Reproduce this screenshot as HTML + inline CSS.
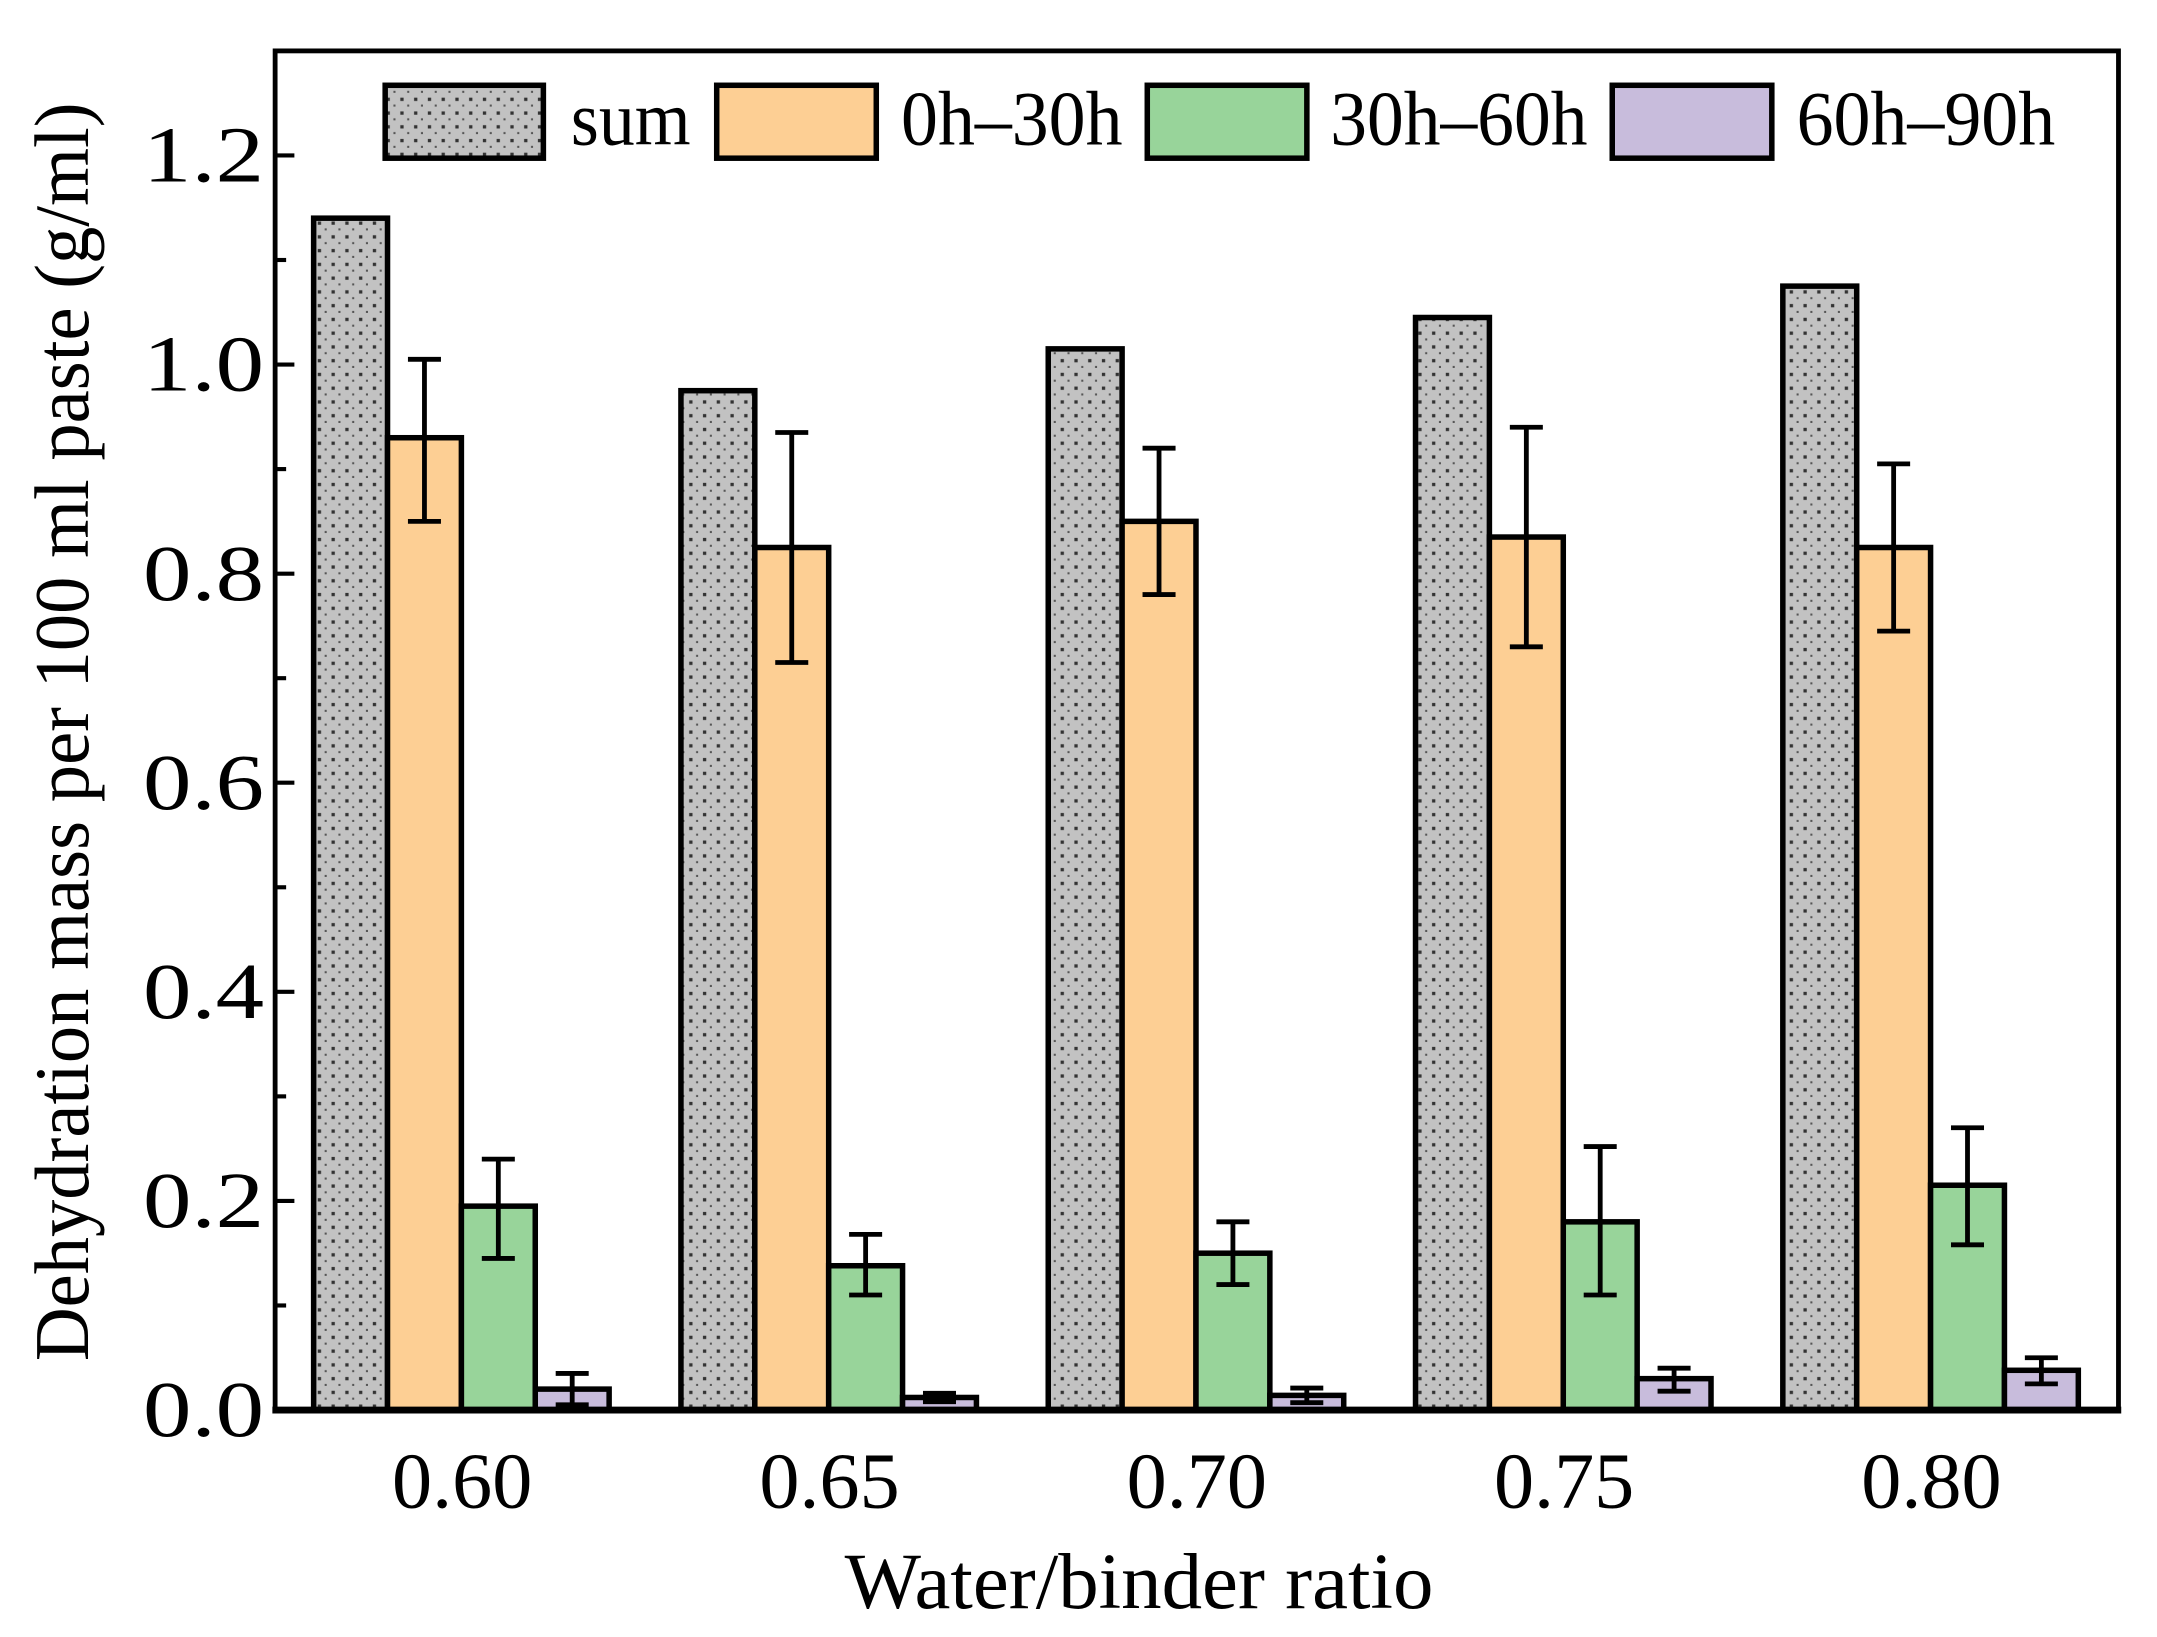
<!DOCTYPE html>
<html><head><meta charset="utf-8"><style>
html,body{margin:0;padding:0;background:#fff;}
svg{display:block;}
text{font-family:"Liberation Serif","Times New Roman",serif;fill:#000;}
</style></head><body>
<svg width="2157" height="1637" viewBox="0 0 1568 1190" preserveAspectRatio="none" xmlns="http://www.w3.org/2000/svg" font-family="Liberation Serif, serif">
<defs>
<pattern id="dots" width="10" height="10" patternUnits="userSpaceOnUse">
<rect width="10" height="10" fill="#c2c2c2"/>
<rect x="1" y="1" width="2.4" height="2.4" fill="#333"/>
<rect x="6" y="6" width="1.5" height="1.5" fill="#555"/>
</pattern>
</defs>
<rect width="1568" height="1190" fill="#fff"/>
<g id="bars" stroke="#000" stroke-width="4"></g>
<g id="errs" stroke="#000" stroke-width="3.5"></g>
<rect x="200" y="37" width="1340" height="988" fill="none" stroke="#000" stroke-width="3.5"/>
<line x1="198" y1="1025" x2="1542" y2="1025" stroke="#000" stroke-width="5"/>
<g id="ticks" stroke="#000" stroke-width="3"></g>
<rect x="280" y="62" width="115" height="53" fill="url(#dots)" stroke="#000" stroke-width="4"/>
<text x="415" y="105" font-family="Liberation Serif, serif" font-size="56" textLength="87" lengthAdjust="spacingAndGlyphs">sum</text>
<rect x="521" y="62" width="116" height="53" fill="#fdcf94" stroke="#000" stroke-width="4"/>
<text x="655" y="105" font-family="Liberation Serif, serif" font-size="56" textLength="161" lengthAdjust="spacingAndGlyphs">0h–30h</text>
<rect x="834" y="62" width="116" height="53" fill="#98d49a" stroke="#000" stroke-width="4"/>
<text x="967" y="105" font-family="Liberation Serif, serif" font-size="56" textLength="187" lengthAdjust="spacingAndGlyphs">30h–60h</text>
<rect x="1172" y="62" width="116" height="53" fill="#c8bcdc" stroke="#000" stroke-width="4"/>
<text x="1306" y="105" font-family="Liberation Serif, serif" font-size="56" textLength="188" lengthAdjust="spacingAndGlyphs">60h–90h</text>
<g font-size="58" text-anchor="end" font-family="Liberation Serif, serif">
<text x="192" y="1044" textLength="88" lengthAdjust="spacingAndGlyphs">0.0</text>
<text x="192" y="892" textLength="88" lengthAdjust="spacingAndGlyphs">0.2</text>
<text x="192" y="740" textLength="88" lengthAdjust="spacingAndGlyphs">0.4</text>
<text x="192" y="588" textLength="88" lengthAdjust="spacingAndGlyphs">0.6</text>
<text x="192" y="436" textLength="88" lengthAdjust="spacingAndGlyphs">0.8</text>
<text x="192" y="284" textLength="88" lengthAdjust="spacingAndGlyphs">1.0</text>
<text x="192" y="132" textLength="88" lengthAdjust="spacingAndGlyphs">1.2</text>
</g>
<g font-size="58" text-anchor="middle" font-family="Liberation Serif, serif">
<text x="336" y="1096" textLength="102" lengthAdjust="spacingAndGlyphs">0.60</text>
<text x="603" y="1096" textLength="102" lengthAdjust="spacingAndGlyphs">0.65</text>
<text x="870" y="1096" textLength="102" lengthAdjust="spacingAndGlyphs">0.70</text>
<text x="1137" y="1096" textLength="102" lengthAdjust="spacingAndGlyphs">0.75</text>
<text x="1404" y="1096" textLength="102" lengthAdjust="spacingAndGlyphs">0.80</text>
</g>
<text x="828" y="1169" font-family="Liberation Serif, serif" font-size="58" text-anchor="middle" textLength="428" lengthAdjust="spacingAndGlyphs">Water/binder ratio</text>
<text transform="translate(64,532) rotate(-90)" font-family="Liberation Serif, serif" font-size="56" text-anchor="middle" textLength="915" lengthAdjust="spacingAndGlyphs">Dehydration mass per 100 ml paste (g/ml)</text>
<script>
(function(){
var ns="http://www.w3.org/2000/svg";
function el(p,t,a){var e=document.createElementNS(ns,t);for(var k in a)e.setAttribute(k,a[k]);p.appendChild(e);return e;}
function Y(v){return 1025-760*v;}
var bars=document.getElementById('bars'),errs=document.getElementById('errs'),ticks=document.getElementById('ticks');
var centers=[336,603,870,1137,1404];
var fills=['url(#dots)','#fdcf94','#98d49a','#c8bcdc'];
var data=[
[[1.14],[0.93,0.85,1.005],[0.195,0.145,0.24],[0.02,0.005,0.035]],
[[0.975],[0.825,0.715,0.935],[0.138,0.11,0.168],[0.012,0.008,0.016]],
[[1.015],[0.85,0.78,0.92],[0.15,0.12,0.18],[0.014,0.007,0.021]],
[[1.045],[0.835,0.73,0.94],[0.18,0.11,0.252],[0.03,0.018,0.04]],
[[1.075],[0.825,0.745,0.905],[0.215,0.158,0.27],[0.038,0.025,0.05]]];
for(var g=0;g<5;g++){var c=centers[g];
for(var s=0;s<4;s++){var x0=c-108+s*53.7,d=data[g][s];
el(bars,'rect',{x:x0,y:Y(d[0]),width:53.7,height:1025-Y(d[0]),fill:fills[s]});
if(d.length>1){var xm=x0+26.85;
el(errs,'line',{x1:xm,x2:xm,y1:Y(d[1]),y2:Y(d[2])});
el(errs,'line',{x1:xm-12,x2:xm+12,y1:Y(d[1]),y2:Y(d[1])});
el(errs,'line',{x1:xm-12,x2:xm+12,y1:Y(d[2]),y2:Y(d[2])});}
}}
for(var i=0;i<=12;i++){var y=1025-76*i;var len=(i%2==0)?14:8;
el(ticks,'line',{x1:200,x2:200+len,y1:y,y2:y});}
})();
</script>
</svg>
</body></html>
